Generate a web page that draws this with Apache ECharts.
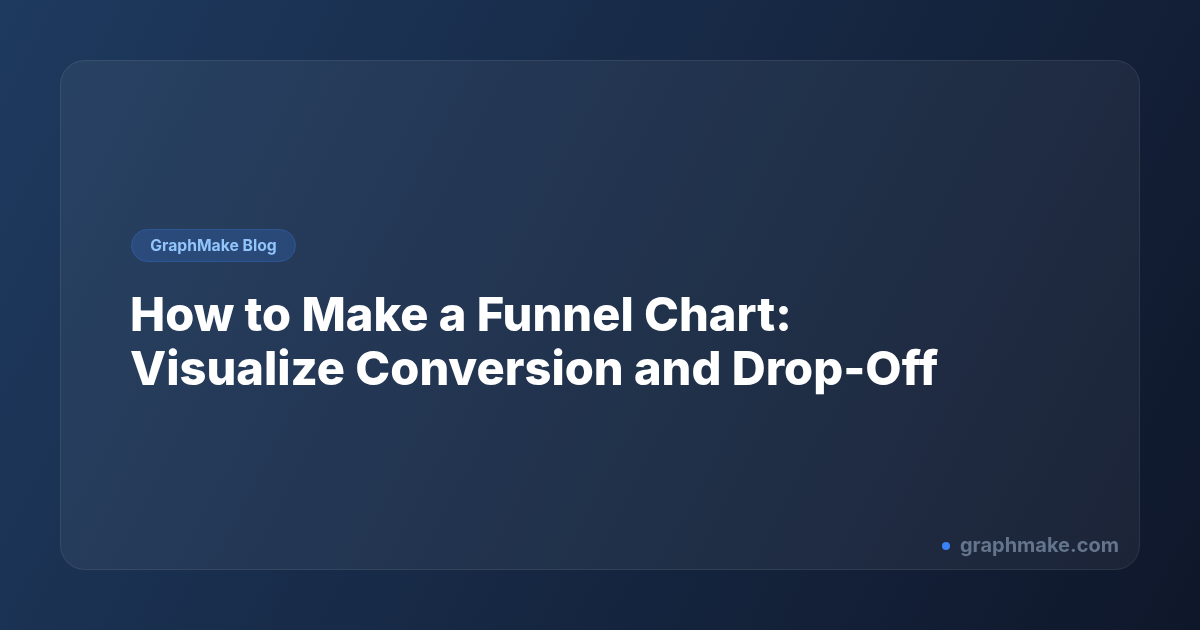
<!DOCTYPE html>
<html><head><meta charset="utf-8">
<script src="https://cdn.jsdelivr.net/npm/echarts@6/dist/echarts.min.js"></script>
<style>html,body{margin:0;padding:0;background:#0f172a}#c{width:1200px;height:630px}</style>
</head><body><div id="c"></div>
<script>
const badgeText = ["GraphMake Blog"];
const titleLines = ["How to Make a Funnel Chart:", "Visualize Conversion and Drop-Off"];
const siteText = ["graphmake.com"];

const chart = echarts.init(document.getElementById('c'), null, {renderer: 'canvas'});
const FONT = 'Inter, "Noto Sans", sans-serif';
const option = {
  backgroundColor: {
    type: 'linear', x: 0, y: 0, x2: 1, y2: 1,
    colorStops: [{offset: 0, color: '#1e3a5f'}, {offset: 1, color: '#0f172a'}]
  },
  graphic: [
    { type: 'rect', shape: {x: 60.5, y: 60.5, width: 1079, height: 509, r: 24},
      style: {fill: 'rgba(255,255,255,0.05)', stroke: 'rgba(255,255,255,0.10)', lineWidth: 1} },
    { type: 'rect', shape: {x: 131.5, y: 229.5, width: 164, height: 32, r: 16},
      style: {fill: 'rgba(59,130,246,0.2)', stroke: 'rgba(59,130,246,0.3)', lineWidth: 1} },
    { type: 'text', x: 213.5, y: 246,
      style: {text: badgeText[0], fill: '#93c5fd', font: '700 15.7px ' + FONT, textAlign: 'center', textVerticalAlign: 'middle'} },
    { type: 'text', x: 130, y: 317,
      style: {text: titleLines[0], fill: '#ffffff', font: '800 47px ' + FONT, textAlign: 'left', textVerticalAlign: 'middle'} },
    { type: 'text', x: 130, y: 371,
      style: {text: titleLines[1], fill: '#ffffff', font: '800 47px ' + FONT, textAlign: 'left', textVerticalAlign: 'middle'} },
    { type: 'circle', shape: {cx: 946, cy: 546, r: 4}, style: {fill: '#3b82f6'} },
    { type: 'text', x: 1119, y: 546,
      style: {text: siteText[0], fill: '#64748b', font: '700 20px ' + FONT, textAlign: 'right', textVerticalAlign: 'middle'} }
  ]
};
chart.setOption(option);
</script></body></html>
